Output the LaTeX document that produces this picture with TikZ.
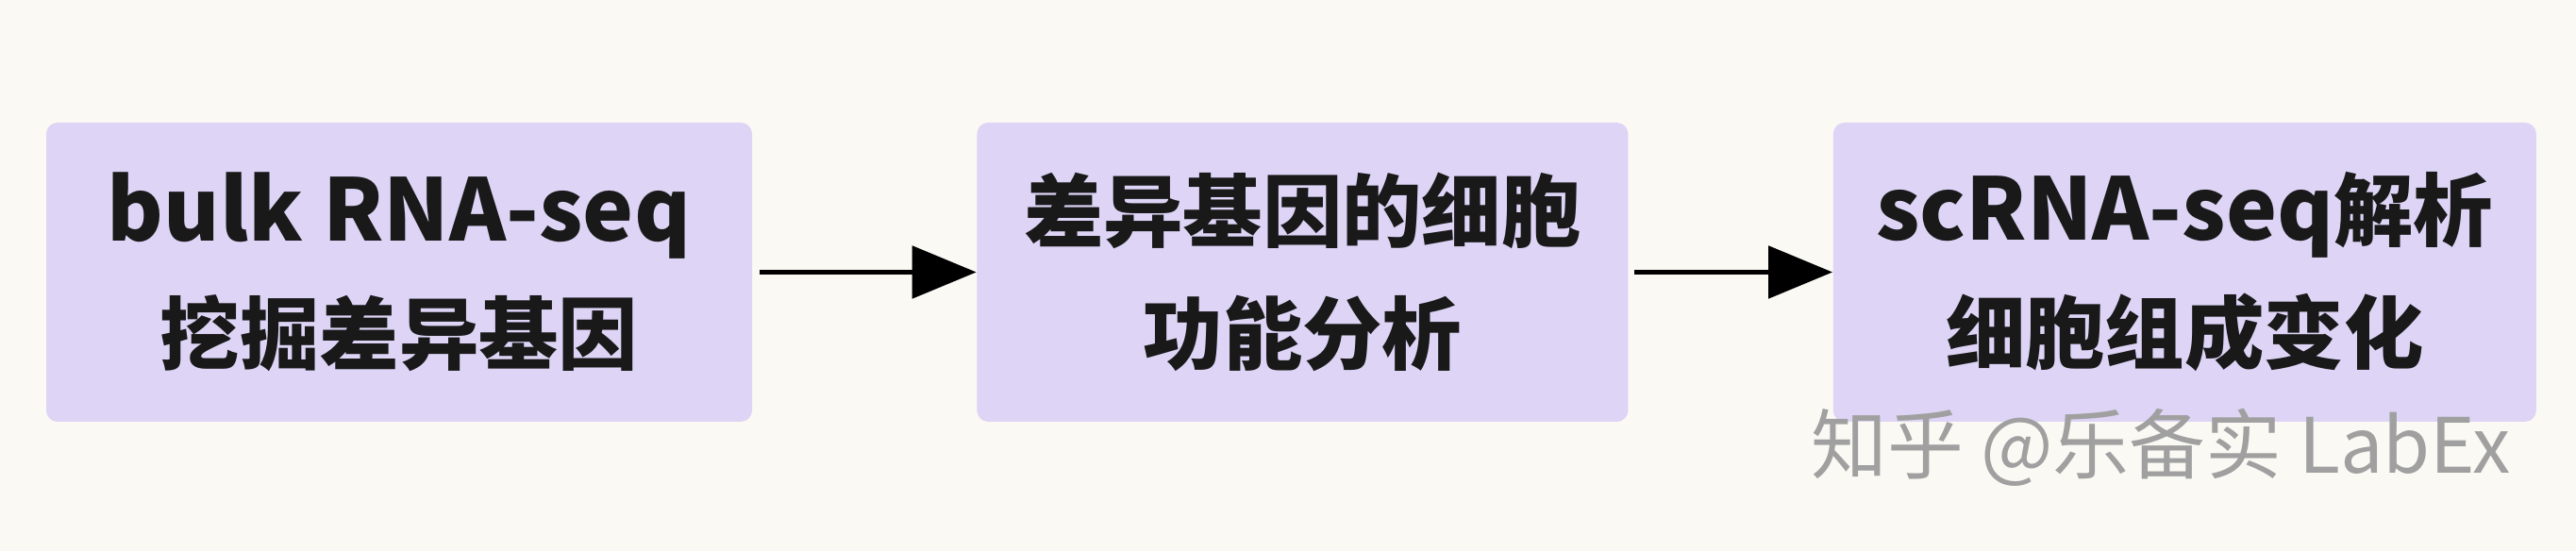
\documentclass[tikz,border=0pt]{standalone}
\usepackage{fontspec}
\setmainfont{Noto Sans CJK SC}
\newfontfamily\latinpart{Noto Sans CJK SC}[Scale=1.08]
\newcommand{\lat}[1]{{\latinpart #1}}
\usepackage{tikz}
\usetikzlibrary{arrows.meta,positioning}

\definecolor{paper}{RGB}{250,249,244}
\definecolor{lavender}{RGB}{221,212,246}
\definecolor{markgray}{RGB}{160,160,160}

\begin{document}
\begin{tikzpicture}
\tikzstyle{stage}=[rectangle,rounded corners=0.12cm,fill=lavender,minimum height=3.17cm,
  align=center,font=\fontsize{24}{37}\selectfont\bfseries,text=black!90,inner sep=0pt]
\tikzstyle{flow}=[line width=1.5pt,-{Triangle[length=0.68cm,width=0.55cm]}]
\tikzstyle{stamp}=[font=\fontsize{23}{27}\selectfont,text=markgray,inner sep=0pt]

\useasboundingbox (0,0) rectangle (27.3,5.84);
\fill[paper] (0,0) rectangle (27.3,5.84);

\node[stage,minimum width=7.48cm] (mine) at (4.23,2.955) {\lat{bulk RNA-seq}\\挖掘差异基因};
\node[stage,minimum width=6.90cm,right=2.37cm of mine] (func) {差异基因的细胞\\功能分析};
\node[stage,minimum width=7.45cm,right=2.16cm of func] (cell) {\lat{scRNA-seq}解析\\细胞组成变化};

\draw[flow] ([xshift=0.07cm]mine.east) -- (func.west);
\draw[flow] ([xshift=0.06cm]func.east) -- (cell.west);

\node[stamp] (mark) at (22.9,1.1) {知乎 @乐备实 LabEx};
\end{tikzpicture}
\end{document}
